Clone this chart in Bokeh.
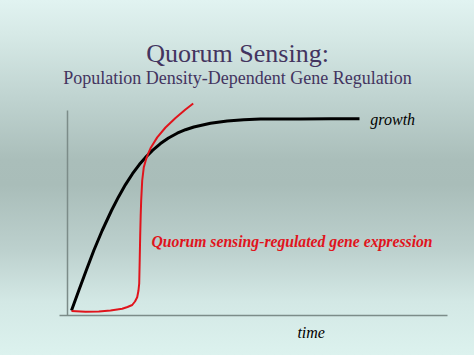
from bokeh.plotting import figure
from bokeh.models import Range1d, Label, FixedTicker
from bokeh.embed import file_html
from bokeh.resources import INLINE

# ---- data (time in arbitrary units, level 0..1) ----
growth_t = [0.105, 0.297, 0.492, 0.692, 0.913, 1.158, 1.342, 1.526, 1.711, 1.895,
            2.053, 2.237, 2.447, 2.658, 2.887, 3.105, 3.324, 3.763, 4.203, 4.639,
            5.079, 6.132, 6.921, 7.684]
growth_y = [0.025, 0.125, 0.225, 0.325, 0.425, 0.525, 0.593, 0.6545, 0.709, 0.756,
            0.7905, 0.8255, 0.8595, 0.8875, 0.9115, 0.929, 0.9425, 0.961, 0.9725, 0.979,
            0.982, 0.983, 0.9835, 0.9835]

qs_t = [0.105, 0.474, 0.824, 1.132, 1.439, 1.579, 1.703, 1.776, 1.834, 1.868,
        1.887, 1.9, 1.913, 1.926, 1.939, 1.966, 2.008, 2.071, 2.126, 2.184,
        2.361, 2.579, 2.842, 3.105, 3.308]
qs_y = [0.0225, 0.019, 0.02, 0.025, 0.0335, 0.0425, 0.0525, 0.07, 0.0915, 0.125,
        0.16, 0.275, 0.40, 0.50, 0.575, 0.675, 0.7415, 0.7835, 0.811, 0.836,
        0.8905, 0.94, 0.9875, 1.03, 1.06]

title_text = "Quorum Sensing:"
subtitle_text = "Population Density-Dependent Gene Regulation"
growth_label = "growth"
qs_label = "Quorum sensing-regulated gene expression"
x_label = "time"

W, H = 474, 355
p = figure(width=W, height=H, output_backend="svg", toolbar_location=None,
           x_range=Range1d(-67 / 38, (W - 67) / 38),
           y_range=Range1d((315 - H) / 200, 315 / 200),
           min_border=0)
p.background_fill_alpha = 0
p.border_fill_alpha = 0
p.outline_line_color = None
p.grid.visible = False
p.styles = {"background": "linear-gradient(to bottom, #e1f3f1 0%, #d6e9e6 10%, #c0d4d1 27%, "
                          "#aabeba 45%, #a9bdb9 52%, #bcd0cd 70%, #d3e8e5 85%, #dcf2ee 100%)"}

axis_color = "#7c8c89"
for ax in (p.xaxis[0], p.yaxis[0]):
    ax.fixed_location = 0
    ax.ticker = FixedTicker(ticks=[])
    ax.axis_line_color = axis_color
    ax.axis_line_width = 1.5
    ax.major_tick_in = 0
    ax.major_tick_out = 0
    ax.minor_tick_in = 0
    ax.minor_tick_out = 0
    ax.major_label_standoff = 0
p.xaxis[0].bounds = (-0.21, 10.0)
p.yaxis[0].bounds = (0, 1.025)

p.line(growth_t, growth_y, line_color="black", line_width=3, line_join="round")
p.line(qs_t, qs_y, line_color="#e0141c", line_width=2, line_join="round")

serif = "Liberation Serif"
p.add_layout(Label(x=4.474, y=1.31, text=title_text, text_font=serif,
                   text_font_size="26px", text_color="#43345f",
                   text_align="center", text_baseline="alphabetic"))
p.add_layout(Label(x=4.474, y=1.19, text=subtitle_text, text_font=serif,
                   text_font_size="18px", text_color="#43345f",
                   text_align="center", text_baseline="alphabetic"))
p.add_layout(Label(x=7.97, y=0.98, text=growth_label, text_font=serif,
                   text_font_style="italic", text_font_size="16px", text_color="black",
                   text_align="left", text_baseline="middle"))
p.add_layout(Label(x=2.21, y=0.37, text=qs_label, text_font=serif,
                   text_font_style="bold italic", text_font_size="15.7px",
                   text_color="#e0141c", text_align="left", text_baseline="middle"))
p.add_layout(Label(x=6.05, y=-0.0835, text=x_label, text_font=serif,
                   text_font_style="italic", text_font_size="16px", text_color="black",
                   text_align="left", text_baseline="middle"))

open("out.html", "w").write(file_html(p, INLINE))
